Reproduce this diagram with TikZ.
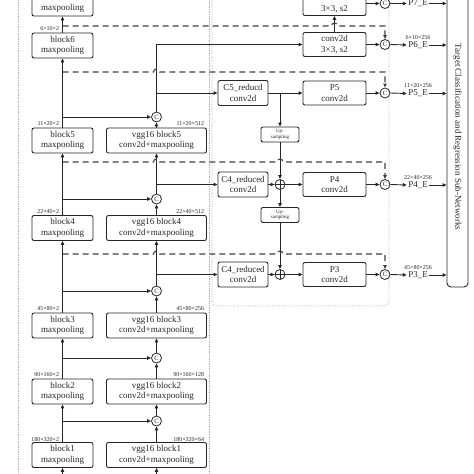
\documentclass[tikz,border=0pt]{standalone}
\usepackage{fontspec}
\setmainfont{Liberation Serif}
\usetikzlibrary{arrows.meta}
\begin{document}
\begin{tikzpicture}[x=1pt,y=-1pt,
  line width=0.9pt, color=black!85,
  >={Triangle[length=4pt,width=3.4pt]},
  box/.style={draw, line width=0.9pt, rounded corners=2pt, inner sep=0pt, align=center, font=\fontsize{9}{10.5}\selectfont},
  blk/.style={box, minimum width=61pt, minimum height=25pt},
  vgg/.style={box, minimum width=100pt, minimum height=25pt},
  redbox/.style={box, minimum width=50pt, minimum height=25pt},
  pbox/.style={box, minimum width=63pt, minimum height=24pt},
  ups/.style={box, minimum width=38pt, minimum height=15pt, font=\fontsize{5}{5.5}\selectfont},
  cc/.style={circle, draw, line width=0.8pt, minimum size=10pt, inner sep=0pt, font=\fontsize{6.5}{6.5}\selectfont},
  pl/.style={circle, draw, line width=0.8pt, minimum size=10pt, inner sep=0pt,
     path picture={\draw[line width=0.8pt] (path picture bounding box.north) -- (path picture bounding box.south) (path picture bounding box.west) -- (path picture bounding box.east);}},
  dim/.style={font=\fontsize{6}{6}\selectfont, inner sep=0.5pt},
  pe/.style={font=\fontsize{9}{9}\selectfont, inner sep=1pt},
  dsh/.style={dash pattern=on 6pt off 4pt, line width=1.1pt, color=black!75},
  reg/.style={draw=black!30, densely dotted, line width=0.7pt},
]
\useasboundingbox (0,0) rectangle (474,474);
\clip (0,0) rectangle (474,474);

% regions
\draw[reg] (18,-10) rectangle (209,490);
\draw[reg, rounded corners=5pt] (212,-10) rectangle (389,306);

% block column
\node[blk] (b1) at (62.5,455) {block1\\maxpooling};
\node[blk] (b2) at (62.5,391.5) {block2\\maxpooling};
\node[blk] (b3) at (62.5,325.5) {block3\\maxpooling};
\node[blk] (b4) at (62.5,228) {block4\\maxpooling};
\node[blk] (b5) at (62.5,140.5) {block5\\maxpooling};
\node[blk] (b6) at (62.5,45.5) {block6\\maxpooling};
\node[blk] (b7) at (62.5,3.5) {block7\\maxpooling};

% vgg column
\node[vgg] (v1) at (156.5,455) {vgg16 block1\\conv2d+maxpooling};
\node[vgg] (v2) at (156.5,391.5) {vgg16 block2\\conv2d+maxpooling};
\node[vgg] (v3) at (156.5,325.5) {vgg16 block3\\conv2d+maxpooling};
\node[vgg] (v4) at (156.5,228) {vgg16 block4\\conv2d+maxpooling};
\node[vgg] (v5) at (156.5,140.5) {vgg16 block5\\conv2d+maxpooling};

% dimension labels
\node[dim, anchor=south east] at (60,443) {180×320×2};
\node[dim, anchor=south east] at (60,378) {90×160×2};
\node[dim, anchor=south east] at (60,312) {45×80×2};
\node[dim, anchor=south east] at (60,215) {22×40×2};
\node[dim, anchor=south east] at (60,127) {11×20×2};
\node[dim, anchor=south east] at (60,32) {6×10×2};
\node[dim, anchor=south east] at (205,443) {180×320×64};
\node[dim, anchor=south east] at (205,378) {90×160×128};
\node[dim, anchor=south east] at (205,312) {45×80×256};
\node[dim, anchor=south east] at (205,215) {22×40×512};
\node[dim, anchor=south east] at (205,127) {11×20×512};

% concat circles (left)
\node[cc] (c1) at (156.5,421) {C};
\node[cc] (c2) at (156.5,358) {C};
\node[cc] (c3) at (156.5,291) {C};
\node[cc] (c4) at (156.5,199) {C};
\node[cc] (c5) at (156.5,117) {C};

% reduce boxes
\node[redbox] (r5) at (243,93) {C5\_reducd\\conv2d};
\node[redbox] (r4) at (243,184.5) {C4\_reduced\\conv2d};
\node[redbox] (r3) at (243,274.5) {C4\_reduced\\conv2d};

% upsampling and sums
\node[ups] (u1) at (280,134.5) {Up-\\sampling};
\node[ups] (u2) at (280,215) {Up-\\sampling};
\node[pl] (s4) at (280,184.5) {};
\node[pl] (s3) at (280,274.5) {};

% P boxes
\node[pbox] (p7) at (334.5,3.5) {conv2d\\3×3, s2};
\node[pbox] (p6) at (334.5,44.5) {conv2d\\3×3, s2};
\node[pbox] (p5) at (334.5,93) {P5\\conv2d};
\node[pbox] (p4) at (334.5,184.5) {P4\\conv2d};
\node[pbox] (p3) at (334.5,274.5) {P3\\conv2d};

% right concat circles
\node[cc] (k7) at (385,3.5) {C};
\node[cc] (k6) at (385,44.5) {C};
\node[cc] (k5) at (385,93) {C};
\node[cc] (k4) at (385,184.5) {C};
\node[cc] (k3) at (385,274.5) {C};

% outputs
\node[pe] (e7) at (418,3.5) {P7\_E};
\node[pe] (e6) at (418,45) {P6\_E};
\node[pe] (e5) at (418,93.5) {P5\_E};
\node[pe] (e4) at (418,185) {P4\_E};
\node[pe] (e3) at (418,275) {P3\_E};
\node[dim] at (418,37.5) {6×10×256};
\node[dim] at (418,86) {11×20×256};
\node[dim] at (418,177.5) {22×40×256};
\node[dim] at (418,267.5) {45×80×256};

% tall box
\node[box, rotate=-90, minimum width=300pt, minimum height=21pt, rounded corners=4pt] (tb) at (457.5,137) {Target Classification and Regression Sub-Networks};

% inputs
\coordinate (in1) at (62.5,476);
\coordinate (in2) at (156.5,476);
\draw[->] (in1) -- (b1.south);
\draw[->] (in2) -- (v1.south);

% block column arrows
\draw[->] (b1.north) -- (b2.south);
\draw[->] (b2.north) -- (b3.south);
\draw[->] (b3.north) -- (b4.south);
\draw[->] (b4.north) -- (b5.south);
\draw[->] (b5.north) -- (b6.south);
\draw[->] (b6.north) -- (b7.south);
\draw[->] (c1.west -| b1.north) -- (c1.west);
\draw[->] (c2.west -| b2.north) -- (c2.west);
\draw[->] (c3.west -| b3.north) -- (c3.west);
\draw[->] (c4.west -| b4.north) -- (c4.west);
\draw[->] (c5.west -| b5.north) -- (c5.west);

% vgg column arrows
\draw[->] (v1.north) -- (c1.south);
\draw[->] (c1.north) -- (v2.south);
\draw[->] (v2.north) -- (c2.south);
\draw[->] (c2.north) -- (v3.south);
\draw[->] (v3.north) -- (c3.south);
\draw[->] (c3.north) -- (v4.south);
\draw[->] (v4.north) -- (c4.south);
\draw[->] (c4.north) -- (v5.south);
\draw[->] (v5.north) -- (c5.south);
\draw[->] (c5.north) |- (p6.west);
\draw[->] (c5.north |- r5.west) -- (r5.west);
\draw[->] (c4.north |- r4.west) -- (r4.west);
\draw[->] (c3.north |- r3.west) -- (r3.west);

% pyramid
\draw[->] (r5.east) -- (p5.west);
\draw[->] (u1.north |- r5.east) -- (u1.north);
\draw[->] (u1.south) -- (s4.north);
\draw[->] (r4.east) -- (s4.west);
\draw[->] (s4.east) -- (p4.west);
\draw[->] (s4.south) -- (u2.north);
\draw[->] (u2.south) -- (s3.north);
\draw[->] (r3.east) -- (s3.west);
\draw[->] (s3.east) -- (p3.west);
\draw[->] (p6.north) -- (p7.south);

\foreach \i in {3,4,5,6,7}{
  \draw[->] (p\i.east) -- (k\i.west);
  \draw[->] (k\i.east) -- (e\i.west);
  \draw[->] (e\i.east) -- (e\i.east -| tb.south);
}

% dashed skip lines
\coordinate (d6) at (62.5,26);
\coordinate (d5) at (62.5,72);
\coordinate (d4) at (62.5,162);
\coordinate (d3) at (62.5,254);
\draw[dsh,->] (d6) -- (331.5,26) arc[start angle=180,end angle=360,radius=3] -- (k6.north |- d6) -- (k6.north);
\draw[dsh,->] (d5) -- (153.5,72) arc[start angle=180,end angle=360,radius=3] -- (k5.north |- d5) -- (k5.north);
\draw[dsh,->] (d4) -- (153.5,162) arc[start angle=180,end angle=360,radius=3] -- (277,162) arc[start angle=180,end angle=360,radius=3] -- (k4.north |- d4) -- (k4.north);
\draw[dsh,->] (d3) -- (153.5,254) arc[start angle=180,end angle=360,radius=3] -- (277,254) arc[start angle=180,end angle=360,radius=3] -- (k3.north |- d3) -- (k3.north);
\end{tikzpicture}
\end{document}
